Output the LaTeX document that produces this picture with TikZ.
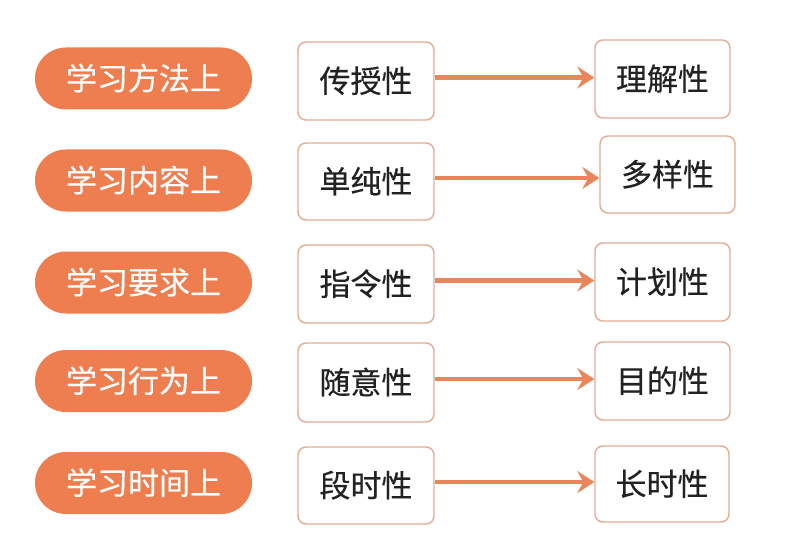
\documentclass[tikz,border=0pt]{standalone}
\usepackage{fontspec}
\newfontfamily\cjk[FakeBold=0.4]{Noto Sans CJK SC}
\usetikzlibrary{arrows.meta}
\definecolor{pillfill}{HTML}{EE7E50}
\definecolor{boxline}{HTML}{E3AB92}
\definecolor{arrcol}{HTML}{E9865C}
\definecolor{txt}{HTML}{222222}
\tikzset{
  pill/.style={rounded corners=31pt, fill=pillfill, draw=none, text=white,
    minimum width=217pt, minimum height=62pt, inner sep=0pt,
    font=\cjk\fontsize{31}{36}\selectfont, text height=23pt, text depth=0pt},
  card/.style={rounded corners=8pt, fill=white, draw=boxline, line width=1.4pt, text=txt,
    minimum width=136pt, minimum height=77pt, inner sep=0pt,
    font=\cjk\fontsize{31}{36}\selectfont, text height=23pt, text depth=0pt},
  arr/.style={draw=arrcol, line width=4.5pt,
    -{Stealth[length=17pt, width=22pt, inset=6pt]}}
}
\begin{document}
\begin{tikzpicture}[x=1pt,y=-1pt]
\useasboundingbox[fill=white] (0,0) rectangle (800,556);
% row 1
\node[pill] (p1) at (143.5,78.5) {学习方法上};
\node[card, minimum height=78pt] (l1) at (366,81) {传授性};
\node[card, minimum width=135pt, minimum height=78pt] (r1) at (662.5,79) {理解性};
% row 2
\node[pill] (p2) at (143.5,180.5) {学习内容上};
\node[card] (l2) at (366,181.5) {单纯性};
\node[card, minimum width=135pt] (r2) at (667.5,174.5) {多样性};
% row 3
\node[pill] (p3) at (143.5,282.5) {学习要求上};
\node[card, minimum height=78pt] (l3) at (366,284) {指令性};
\node[card, minimum width=135pt, minimum height=78pt] (r3) at (662.5,282) {计划性};
% row 4
\node[pill] (p4) at (143.5,381) {学习行为上};
\node[card, minimum height=79pt] (l4) at (366,382.5) {随意性};
\node[card, minimum width=135pt, minimum height=78pt] (r4) at (662.5,381) {目的性};
% row 5
\node[pill] (p5) at (143.5,483) {学习时间上};
\node[card] (l5) at (366,485.5) {段时性};
\node[card, minimum width=134pt, minimum height=76pt] (r5) at (662,484) {长时性};
% arrows
\foreach \i in {1,...,5}{
  \draw[arr] ([yshift=3.5pt]l\i.east) -- ([yshift=3.5pt]r\i.west |- l\i.east);
}
\end{tikzpicture}
\end{document}
